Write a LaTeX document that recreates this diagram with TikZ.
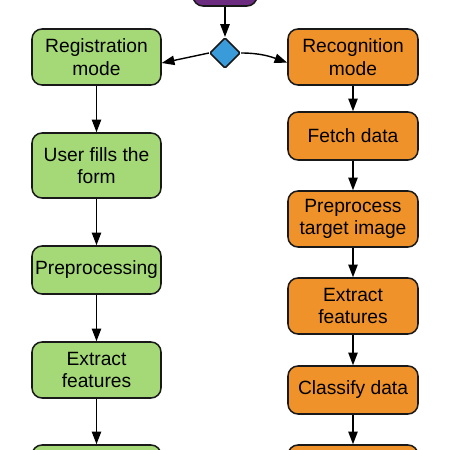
\documentclass[tikz,border=0pt]{standalone}
\usepackage{fontspec}
\setmainfont{Liberation Sans}
\usepackage{xcolor}
\usetikzlibrary{positioning,arrows.meta,shapes.geometric}
\definecolor{regcolor}{RGB}{165,217,120}
\definecolor{reccolor}{RGB}{240,146,42}
\definecolor{deccolor}{RGB}{58,155,218}
\definecolor{startcolor}{RGB}{108,44,128}

\begin{document}
\begin{tikzpicture}[font=\fontsize{16.4}{19.2}\selectfont,
  box/.style={draw=black!90,line width=1.3pt,rounded corners=0.3cm,align=center,inner sep=2pt},
  regbox/.style={box,fill=regcolor,minimum width=3.87cm},
  recbox/.style={box,fill=reccolor,minimum width=3.9cm},
  arr/.style={-{Triangle[length=3.8mm,width=2.8mm]},line width=1.2pt}]
\useasboundingbox (0,0) rectangle (13.5,-13.5);
\node[box,fill=startcolor,minimum width=1.92cm,minimum height=1.2cm] (s) at (6.75,0.42) {};
\node[draw=black!90,line width=1.3pt,diamond,fill=deccolor,minimum width=0.92cm,minimum height=0.92cm,inner sep=0pt,rounded corners=1pt] (d) at (6.75,-1.59) {};
% registration side
\node[regbox,minimum height=1.68cm] (reg) at (2.895,-1.71) {Registration\\mode};
\node[regbox,minimum height=1.95cm] (form) at (2.895,-4.965) {User fills the\\form};
\node[regbox,minimum height=1.44cm] (prep) at (2.895,-8.10) {Preprocessing};
\node[regbox,minimum height=1.68cm] (featl) at (2.895,-11.10) {Extract\\features};
\node[regbox,minimum height=1.68cm] (lastl) at (2.895,-14.19) {};
% recognition side
\node[recbox,minimum height=1.68cm] (rec) at (10.59,-1.71) {Recognition\\mode};
\node[recbox,minimum height=1.44cm] (fetch) at (10.59,-4.08) {Fetch data};
\node[recbox,minimum height=1.68cm] (pret) at (10.59,-6.57) {Preprocess\\target image};
\node[recbox,minimum height=1.68cm] (featr) at (10.59,-9.18) {Extract\\features};
\node[recbox,minimum height=1.44cm] (cls) at (10.59,-11.70) {Classify data};
\node[recbox,minimum height=1.68cm] (lastr) at (10.59,-14.19) {};
\draw[arr](s)--(d);
\draw[arr](d.west)--([yshift=-0.18cm]reg.east);
\draw[arr](d.east) to[out=0,in=160] ([yshift=-0.17cm]rec.west);
\draw[arr](reg)--(form);
\draw[arr](form)--(prep);
\draw[arr](prep)--(featl);
\draw[arr](featl)--(lastl);
\draw[arr](rec)--(fetch);
\draw[arr](fetch)--(pret);
\draw[arr](pret)--(featr);
\draw[arr](featr)--(cls);
\draw[arr](cls)--(lastr);
\end{tikzpicture}
\end{document}
